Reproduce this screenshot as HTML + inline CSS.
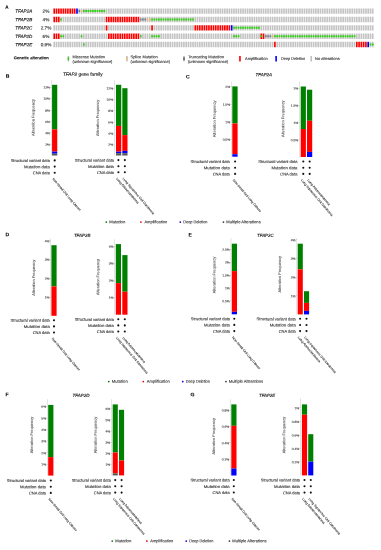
<!DOCTYPE html>
<html lang="en"><head><meta charset="utf-8"><title>TFAP2 family alterations in lung cancer</title>
<style>
html,body{margin:0;padding:0;background:#fff;}
body{width:381px;height:550px;overflow:hidden;}
svg{display:block;font-family:"Liberation Sans",sans-serif;}
svg text{stroke-width:0.1px;text-rendering:geometricPrecision;}
</style></head><body>
<svg width="381" height="550" viewBox="0 0 381 550">
<rect width="381" height="550" fill="#ffffff"/>
<text x="5.20" y="8.76" font-size="4.6" font-weight="bold" fill="#000" stroke="#000" transform="rotate(0.03 5.20 8.76)">A</text>
<text x="15.20" y="12.86" font-size="4.6" font-style="italic" fill="#222" stroke="#222" textLength="17.10" lengthAdjust="spacingAndGlyphs" transform="rotate(0.03 15.20 12.86)" style="stroke-width:0.15px">TFAP2A</text>
<text x="46.00" y="12.82" font-size="4.7" text-anchor="middle" fill="#333" stroke="#333" transform="rotate(0.03 46.00 12.82)" style="stroke-width:0.14px">2%</text>
<path d="M78.42 8.40h1.68v5.4h-1.68zM80.70 8.40h1.68v5.4h-1.68zM82.97 8.40h1.68v5.4h-1.68zM85.25 8.40h1.68v5.4h-1.68zM87.53 8.40h1.68v5.4h-1.68zM89.80 8.40h1.68v5.4h-1.68zM92.07 8.40h1.68v5.4h-1.68zM94.35 8.40h1.68v5.4h-1.68zM96.62 8.40h1.68v5.4h-1.68zM98.90 8.40h1.68v5.4h-1.68zM101.17 8.40h1.68v5.4h-1.68zM103.45 8.40h1.68v5.4h-1.68zM105.72 8.40h1.68v5.4h-1.68zM108.00 8.40h1.68v5.4h-1.68zM110.28 8.40h1.68v5.4h-1.68zM112.55 8.40h1.68v5.4h-1.68zM114.82 8.40h1.68v5.4h-1.68zM117.10 8.40h1.68v5.4h-1.68zM119.38 8.40h1.68v5.4h-1.68zM121.65 8.40h1.68v5.4h-1.68zM123.92 8.40h1.68v5.4h-1.68zM126.20 8.40h1.68v5.4h-1.68zM128.47 8.40h1.68v5.4h-1.68zM130.75 8.40h1.68v5.4h-1.68zM133.03 8.40h1.68v5.4h-1.68zM135.30 8.40h1.68v5.4h-1.68zM137.57 8.40h1.68v5.4h-1.68zM139.85 8.40h1.68v5.4h-1.68zM142.12 8.40h1.68v5.4h-1.68zM144.40 8.40h1.68v5.4h-1.68zM146.67 8.40h1.68v5.4h-1.68zM148.95 8.40h1.68v5.4h-1.68zM151.22 8.40h1.68v5.4h-1.68zM153.50 8.40h1.68v5.4h-1.68zM155.78 8.40h1.68v5.4h-1.68zM158.05 8.40h1.68v5.4h-1.68zM160.32 8.40h1.68v5.4h-1.68zM162.60 8.40h1.68v5.4h-1.68zM164.88 8.40h1.68v5.4h-1.68zM167.15 8.40h1.68v5.4h-1.68zM169.42 8.40h1.68v5.4h-1.68zM171.70 8.40h1.68v5.4h-1.68zM173.97 8.40h1.68v5.4h-1.68zM176.25 8.40h1.68v5.4h-1.68zM178.53 8.40h1.68v5.4h-1.68zM180.80 8.40h1.68v5.4h-1.68zM183.07 8.40h1.68v5.4h-1.68zM185.35 8.40h1.68v5.4h-1.68zM187.62 8.40h1.68v5.4h-1.68zM189.90 8.40h1.68v5.4h-1.68zM192.18 8.40h1.68v5.4h-1.68zM194.45 8.40h1.68v5.4h-1.68zM196.72 8.40h1.68v5.4h-1.68zM199.00 8.40h1.68v5.4h-1.68zM201.28 8.40h1.68v5.4h-1.68zM203.55 8.40h1.68v5.4h-1.68zM205.82 8.40h1.68v5.4h-1.68zM208.10 8.40h1.68v5.4h-1.68zM210.38 8.40h1.68v5.4h-1.68zM212.65 8.40h1.68v5.4h-1.68zM214.93 8.40h1.68v5.4h-1.68zM217.20 8.40h1.68v5.4h-1.68zM219.47 8.40h1.68v5.4h-1.68zM221.75 8.40h1.68v5.4h-1.68zM224.03 8.40h1.68v5.4h-1.68zM226.30 8.40h1.68v5.4h-1.68zM228.57 8.40h1.68v5.4h-1.68zM230.85 8.40h1.68v5.4h-1.68zM233.12 8.40h1.68v5.4h-1.68zM235.40 8.40h1.68v5.4h-1.68zM237.68 8.40h1.68v5.4h-1.68zM239.95 8.40h1.68v5.4h-1.68zM242.22 8.40h1.68v5.4h-1.68zM244.50 8.40h1.68v5.4h-1.68zM246.78 8.40h1.68v5.4h-1.68zM249.05 8.40h1.68v5.4h-1.68zM251.32 8.40h1.68v5.4h-1.68zM253.60 8.40h1.68v5.4h-1.68zM255.88 8.40h1.68v5.4h-1.68zM258.15 8.40h1.68v5.4h-1.68zM260.43 8.40h1.68v5.4h-1.68zM262.70 8.40h1.68v5.4h-1.68zM264.97 8.40h1.68v5.4h-1.68zM267.25 8.40h1.68v5.4h-1.68zM269.52 8.40h1.68v5.4h-1.68zM271.80 8.40h1.68v5.4h-1.68zM274.07 8.40h1.68v5.4h-1.68zM276.35 8.40h1.68v5.4h-1.68zM278.62 8.40h1.68v5.4h-1.68zM280.90 8.40h1.68v5.4h-1.68zM283.17 8.40h1.68v5.4h-1.68zM285.45 8.40h1.68v5.4h-1.68zM287.72 8.40h1.68v5.4h-1.68zM290.00 8.40h1.68v5.4h-1.68zM292.27 8.40h1.68v5.4h-1.68zM294.55 8.40h1.68v5.4h-1.68zM296.82 8.40h1.68v5.4h-1.68zM299.10 8.40h1.68v5.4h-1.68zM301.38 8.40h1.68v5.4h-1.68zM303.65 8.40h1.68v5.4h-1.68zM305.92 8.40h1.68v5.4h-1.68zM308.20 8.40h1.68v5.4h-1.68zM310.47 8.40h1.68v5.4h-1.68zM312.75 8.40h1.68v5.4h-1.68zM315.02 8.40h1.68v5.4h-1.68zM317.30 8.40h1.68v5.4h-1.68zM319.57 8.40h1.68v5.4h-1.68zM321.85 8.40h1.68v5.4h-1.68zM324.12 8.40h1.68v5.4h-1.68zM326.40 8.40h1.68v5.4h-1.68zM328.67 8.40h1.68v5.4h-1.68zM330.95 8.40h1.68v5.4h-1.68zM333.22 8.40h1.68v5.4h-1.68zM335.50 8.40h1.68v5.4h-1.68zM337.77 8.40h1.68v5.4h-1.68zM340.05 8.40h1.68v5.4h-1.68zM342.32 8.40h1.68v5.4h-1.68zM344.60 8.40h1.68v5.4h-1.68zM346.87 8.40h1.68v5.4h-1.68zM349.15 8.40h1.68v5.4h-1.68zM351.42 8.40h1.68v5.4h-1.68zM353.70 8.40h1.68v5.4h-1.68zM355.97 8.40h1.68v5.4h-1.68zM358.25 8.40h1.68v5.4h-1.68zM360.52 8.40h1.68v5.4h-1.68zM362.80 8.40h1.68v5.4h-1.68zM365.07 8.40h1.68v5.4h-1.68zM367.35 8.40h1.68v5.4h-1.68zM369.62 8.40h1.68v5.4h-1.68zM371.90 8.40h1.68v5.4h-1.68z" fill="#c4c4c4"/>
<path d="M53.40 8.40h1.68v5.4h-1.68zM55.67 8.40h1.68v5.4h-1.68zM57.95 8.40h1.68v5.4h-1.68zM60.22 8.40h1.68v5.4h-1.68zM62.50 8.40h1.68v5.4h-1.68zM64.78 8.40h1.68v5.4h-1.68zM67.05 8.40h1.68v5.4h-1.68zM69.33 8.40h1.68v5.4h-1.68zM71.60 8.40h1.68v5.4h-1.68zM73.88 8.40h1.68v5.4h-1.68z" fill="#ff0000"/>
<path d="M76.15 8.40h1.68v5.4h-1.68z" fill="#0000ff"/>
<path d="M82.97 10.10h1.68v2.0h-1.68zM85.25 10.10h1.68v2.0h-1.68zM87.53 10.10h1.68v2.0h-1.68zM89.80 10.10h1.68v2.0h-1.68zM92.07 10.10h1.68v2.0h-1.68zM94.35 10.10h1.68v2.0h-1.68zM96.62 10.10h1.68v2.0h-1.68zM98.90 10.10h1.68v2.0h-1.68zM101.17 10.10h1.68v2.0h-1.68zM103.45 10.10h1.68v2.0h-1.68z" fill="#2ed010"/>
<path d="M78.42 10.10h1.68v2.0h-1.68z" fill="#708090"/>
<path d="M80.70 10.10h1.68v2.0h-1.68z" fill="#f0b87b"/>
<text x="15.20" y="21.26" font-size="4.6" font-style="italic" fill="#222" stroke="#222" textLength="17.10" lengthAdjust="spacingAndGlyphs" transform="rotate(0.03 15.20 21.26)" style="stroke-width:0.15px">TFAP2B</text>
<text x="46.00" y="21.22" font-size="4.7" text-anchor="middle" fill="#333" stroke="#333" transform="rotate(0.03 46.00 21.22)" style="stroke-width:0.14px">4%</text>
<path d="M60.22 16.80h1.68v5.4h-1.68zM62.50 16.80h1.68v5.4h-1.68zM64.78 16.80h1.68v5.4h-1.68zM67.05 16.80h1.68v5.4h-1.68zM69.33 16.80h1.68v5.4h-1.68zM71.60 16.80h1.68v5.4h-1.68zM73.88 16.80h1.68v5.4h-1.68zM76.15 16.80h1.68v5.4h-1.68zM78.42 16.80h1.68v5.4h-1.68zM80.70 16.80h1.68v5.4h-1.68zM82.97 16.80h1.68v5.4h-1.68zM85.25 16.80h1.68v5.4h-1.68zM87.53 16.80h1.68v5.4h-1.68zM89.80 16.80h1.68v5.4h-1.68zM92.07 16.80h1.68v5.4h-1.68zM94.35 16.80h1.68v5.4h-1.68zM96.62 16.80h1.68v5.4h-1.68zM98.90 16.80h1.68v5.4h-1.68zM101.17 16.80h1.68v5.4h-1.68zM103.45 16.80h1.68v5.4h-1.68zM139.85 16.80h1.68v5.4h-1.68zM142.12 16.80h1.68v5.4h-1.68zM144.40 16.80h1.68v5.4h-1.68zM146.67 16.80h1.68v5.4h-1.68zM148.95 16.80h1.68v5.4h-1.68zM151.22 16.80h1.68v5.4h-1.68zM153.50 16.80h1.68v5.4h-1.68zM155.78 16.80h1.68v5.4h-1.68zM158.05 16.80h1.68v5.4h-1.68zM160.32 16.80h1.68v5.4h-1.68zM162.60 16.80h1.68v5.4h-1.68zM164.88 16.80h1.68v5.4h-1.68zM167.15 16.80h1.68v5.4h-1.68zM169.42 16.80h1.68v5.4h-1.68zM171.70 16.80h1.68v5.4h-1.68zM173.97 16.80h1.68v5.4h-1.68zM176.25 16.80h1.68v5.4h-1.68zM178.53 16.80h1.68v5.4h-1.68zM180.80 16.80h1.68v5.4h-1.68zM183.07 16.80h1.68v5.4h-1.68zM185.35 16.80h1.68v5.4h-1.68zM187.62 16.80h1.68v5.4h-1.68zM189.90 16.80h1.68v5.4h-1.68zM192.18 16.80h1.68v5.4h-1.68zM194.45 16.80h1.68v5.4h-1.68zM196.72 16.80h1.68v5.4h-1.68zM199.00 16.80h1.68v5.4h-1.68zM201.28 16.80h1.68v5.4h-1.68zM203.55 16.80h1.68v5.4h-1.68zM205.82 16.80h1.68v5.4h-1.68zM208.10 16.80h1.68v5.4h-1.68zM210.38 16.80h1.68v5.4h-1.68zM212.65 16.80h1.68v5.4h-1.68zM214.93 16.80h1.68v5.4h-1.68zM217.20 16.80h1.68v5.4h-1.68zM219.47 16.80h1.68v5.4h-1.68zM221.75 16.80h1.68v5.4h-1.68zM224.03 16.80h1.68v5.4h-1.68zM226.30 16.80h1.68v5.4h-1.68zM228.57 16.80h1.68v5.4h-1.68zM230.85 16.80h1.68v5.4h-1.68zM233.12 16.80h1.68v5.4h-1.68zM235.40 16.80h1.68v5.4h-1.68zM237.68 16.80h1.68v5.4h-1.68zM239.95 16.80h1.68v5.4h-1.68zM242.22 16.80h1.68v5.4h-1.68zM244.50 16.80h1.68v5.4h-1.68zM246.78 16.80h1.68v5.4h-1.68zM249.05 16.80h1.68v5.4h-1.68zM251.32 16.80h1.68v5.4h-1.68zM253.60 16.80h1.68v5.4h-1.68zM255.88 16.80h1.68v5.4h-1.68zM258.15 16.80h1.68v5.4h-1.68zM260.43 16.80h1.68v5.4h-1.68zM262.70 16.80h1.68v5.4h-1.68zM264.97 16.80h1.68v5.4h-1.68zM267.25 16.80h1.68v5.4h-1.68zM269.52 16.80h1.68v5.4h-1.68zM271.80 16.80h1.68v5.4h-1.68zM274.07 16.80h1.68v5.4h-1.68zM276.35 16.80h1.68v5.4h-1.68zM278.62 16.80h1.68v5.4h-1.68zM280.90 16.80h1.68v5.4h-1.68zM283.17 16.80h1.68v5.4h-1.68zM285.45 16.80h1.68v5.4h-1.68zM287.72 16.80h1.68v5.4h-1.68zM290.00 16.80h1.68v5.4h-1.68zM292.27 16.80h1.68v5.4h-1.68zM294.55 16.80h1.68v5.4h-1.68zM296.82 16.80h1.68v5.4h-1.68zM299.10 16.80h1.68v5.4h-1.68zM301.38 16.80h1.68v5.4h-1.68zM303.65 16.80h1.68v5.4h-1.68zM305.92 16.80h1.68v5.4h-1.68zM308.20 16.80h1.68v5.4h-1.68zM310.47 16.80h1.68v5.4h-1.68zM312.75 16.80h1.68v5.4h-1.68zM315.02 16.80h1.68v5.4h-1.68zM317.30 16.80h1.68v5.4h-1.68zM319.57 16.80h1.68v5.4h-1.68zM321.85 16.80h1.68v5.4h-1.68zM324.12 16.80h1.68v5.4h-1.68zM326.40 16.80h1.68v5.4h-1.68zM328.67 16.80h1.68v5.4h-1.68zM330.95 16.80h1.68v5.4h-1.68zM333.22 16.80h1.68v5.4h-1.68zM335.50 16.80h1.68v5.4h-1.68zM337.77 16.80h1.68v5.4h-1.68zM340.05 16.80h1.68v5.4h-1.68zM342.32 16.80h1.68v5.4h-1.68zM344.60 16.80h1.68v5.4h-1.68zM346.87 16.80h1.68v5.4h-1.68zM349.15 16.80h1.68v5.4h-1.68zM351.42 16.80h1.68v5.4h-1.68zM353.70 16.80h1.68v5.4h-1.68zM355.97 16.80h1.68v5.4h-1.68zM358.25 16.80h1.68v5.4h-1.68zM360.52 16.80h1.68v5.4h-1.68zM362.80 16.80h1.68v5.4h-1.68zM365.07 16.80h1.68v5.4h-1.68zM367.35 16.80h1.68v5.4h-1.68zM369.62 16.80h1.68v5.4h-1.68zM371.90 16.80h1.68v5.4h-1.68z" fill="#c4c4c4"/>
<path d="M53.40 16.80h1.68v5.4h-1.68zM55.67 16.80h1.68v5.4h-1.68zM57.95 16.80h1.68v5.4h-1.68zM105.72 16.80h1.68v5.4h-1.68zM108.00 16.80h1.68v5.4h-1.68zM110.28 16.80h1.68v5.4h-1.68zM112.55 16.80h1.68v5.4h-1.68zM114.82 16.80h1.68v5.4h-1.68zM117.10 16.80h1.68v5.4h-1.68zM119.38 16.80h1.68v5.4h-1.68zM121.65 16.80h1.68v5.4h-1.68zM123.92 16.80h1.68v5.4h-1.68zM126.20 16.80h1.68v5.4h-1.68zM128.47 16.80h1.68v5.4h-1.68zM130.75 16.80h1.68v5.4h-1.68zM133.03 16.80h1.68v5.4h-1.68zM135.30 16.80h1.68v5.4h-1.68zM137.57 16.80h1.68v5.4h-1.68z" fill="#ff0000"/>
<path d="M60.22 18.50h1.68v2.0h-1.68zM151.22 18.50h1.68v2.0h-1.68zM153.50 18.50h1.68v2.0h-1.68zM155.78 18.50h1.68v2.0h-1.68zM158.05 18.50h1.68v2.0h-1.68zM160.32 18.50h1.68v2.0h-1.68zM162.60 18.50h1.68v2.0h-1.68zM164.88 18.50h1.68v2.0h-1.68zM167.15 18.50h1.68v2.0h-1.68zM169.42 18.50h1.68v2.0h-1.68zM171.70 18.50h1.68v2.0h-1.68zM173.97 18.50h1.68v2.0h-1.68zM176.25 18.50h1.68v2.0h-1.68zM178.53 18.50h1.68v2.0h-1.68zM180.80 18.50h1.68v2.0h-1.68zM183.07 18.50h1.68v2.0h-1.68zM185.35 18.50h1.68v2.0h-1.68zM187.62 18.50h1.68v2.0h-1.68zM189.90 18.50h1.68v2.0h-1.68zM192.18 18.50h1.68v2.0h-1.68z" fill="#2ed010"/>
<path d="M139.85 18.50h1.68v2.0h-1.68zM142.12 18.50h1.68v2.0h-1.68zM144.40 18.50h1.68v2.0h-1.68z" fill="#708090"/>
<path d="M146.67 18.50h1.68v2.0h-1.68zM148.95 18.50h1.68v2.0h-1.68z" fill="#f0b87b"/>
<text x="15.20" y="29.61" font-size="4.6" font-style="italic" fill="#222" stroke="#222" textLength="17.10" lengthAdjust="spacingAndGlyphs" transform="rotate(0.03 15.20 29.61)" style="stroke-width:0.15px">TFAP2C</text>
<text x="46.00" y="29.57" font-size="4.7" text-anchor="middle" fill="#333" stroke="#333" transform="rotate(0.03 46.00 29.57)" style="stroke-width:0.14px">2.7%</text>
<path d="M53.40 25.15h1.68v5.4h-1.68zM55.67 25.15h1.68v5.4h-1.68zM57.95 25.15h1.68v5.4h-1.68zM60.22 25.15h1.68v5.4h-1.68zM62.50 25.15h1.68v5.4h-1.68zM64.78 25.15h1.68v5.4h-1.68zM67.05 25.15h1.68v5.4h-1.68zM69.33 25.15h1.68v5.4h-1.68zM71.60 25.15h1.68v5.4h-1.68zM73.88 25.15h1.68v5.4h-1.68zM76.15 25.15h1.68v5.4h-1.68zM78.42 25.15h1.68v5.4h-1.68zM80.70 25.15h1.68v5.4h-1.68zM82.97 25.15h1.68v5.4h-1.68zM85.25 25.15h1.68v5.4h-1.68zM87.53 25.15h1.68v5.4h-1.68zM89.80 25.15h1.68v5.4h-1.68zM92.07 25.15h1.68v5.4h-1.68zM94.35 25.15h1.68v5.4h-1.68zM96.62 25.15h1.68v5.4h-1.68zM98.90 25.15h1.68v5.4h-1.68zM101.17 25.15h1.68v5.4h-1.68zM103.45 25.15h1.68v5.4h-1.68zM108.00 25.15h1.68v5.4h-1.68zM110.28 25.15h1.68v5.4h-1.68zM112.55 25.15h1.68v5.4h-1.68zM114.82 25.15h1.68v5.4h-1.68zM117.10 25.15h1.68v5.4h-1.68zM119.38 25.15h1.68v5.4h-1.68zM121.65 25.15h1.68v5.4h-1.68zM123.92 25.15h1.68v5.4h-1.68zM126.20 25.15h1.68v5.4h-1.68zM128.47 25.15h1.68v5.4h-1.68zM130.75 25.15h1.68v5.4h-1.68zM133.03 25.15h1.68v5.4h-1.68zM135.30 25.15h1.68v5.4h-1.68zM137.57 25.15h1.68v5.4h-1.68zM139.85 25.15h1.68v5.4h-1.68zM142.12 25.15h1.68v5.4h-1.68zM144.40 25.15h1.68v5.4h-1.68zM146.67 25.15h1.68v5.4h-1.68zM148.95 25.15h1.68v5.4h-1.68zM153.50 25.15h1.68v5.4h-1.68zM155.78 25.15h1.68v5.4h-1.68zM158.05 25.15h1.68v5.4h-1.68zM160.32 25.15h1.68v5.4h-1.68zM162.60 25.15h1.68v5.4h-1.68zM164.88 25.15h1.68v5.4h-1.68zM167.15 25.15h1.68v5.4h-1.68zM169.42 25.15h1.68v5.4h-1.68zM171.70 25.15h1.68v5.4h-1.68zM173.97 25.15h1.68v5.4h-1.68zM176.25 25.15h1.68v5.4h-1.68zM178.53 25.15h1.68v5.4h-1.68zM180.80 25.15h1.68v5.4h-1.68zM183.07 25.15h1.68v5.4h-1.68zM185.35 25.15h1.68v5.4h-1.68zM187.62 25.15h1.68v5.4h-1.68zM189.90 25.15h1.68v5.4h-1.68zM192.18 25.15h1.68v5.4h-1.68zM233.12 25.15h1.68v5.4h-1.68zM235.40 25.15h1.68v5.4h-1.68zM237.68 25.15h1.68v5.4h-1.68zM239.95 25.15h1.68v5.4h-1.68zM242.22 25.15h1.68v5.4h-1.68zM244.50 25.15h1.68v5.4h-1.68zM246.78 25.15h1.68v5.4h-1.68zM249.05 25.15h1.68v5.4h-1.68zM251.32 25.15h1.68v5.4h-1.68zM253.60 25.15h1.68v5.4h-1.68zM255.88 25.15h1.68v5.4h-1.68zM258.15 25.15h1.68v5.4h-1.68zM260.43 25.15h1.68v5.4h-1.68zM262.70 25.15h1.68v5.4h-1.68zM264.97 25.15h1.68v5.4h-1.68zM267.25 25.15h1.68v5.4h-1.68zM269.52 25.15h1.68v5.4h-1.68zM271.80 25.15h1.68v5.4h-1.68zM274.07 25.15h1.68v5.4h-1.68zM276.35 25.15h1.68v5.4h-1.68zM278.62 25.15h1.68v5.4h-1.68zM280.90 25.15h1.68v5.4h-1.68zM283.17 25.15h1.68v5.4h-1.68zM285.45 25.15h1.68v5.4h-1.68zM287.72 25.15h1.68v5.4h-1.68zM290.00 25.15h1.68v5.4h-1.68zM292.27 25.15h1.68v5.4h-1.68zM294.55 25.15h1.68v5.4h-1.68zM296.82 25.15h1.68v5.4h-1.68zM299.10 25.15h1.68v5.4h-1.68zM301.38 25.15h1.68v5.4h-1.68zM303.65 25.15h1.68v5.4h-1.68zM305.92 25.15h1.68v5.4h-1.68zM308.20 25.15h1.68v5.4h-1.68zM310.47 25.15h1.68v5.4h-1.68zM312.75 25.15h1.68v5.4h-1.68zM315.02 25.15h1.68v5.4h-1.68zM317.30 25.15h1.68v5.4h-1.68zM319.57 25.15h1.68v5.4h-1.68zM321.85 25.15h1.68v5.4h-1.68zM324.12 25.15h1.68v5.4h-1.68zM326.40 25.15h1.68v5.4h-1.68zM328.67 25.15h1.68v5.4h-1.68zM330.95 25.15h1.68v5.4h-1.68zM333.22 25.15h1.68v5.4h-1.68zM335.50 25.15h1.68v5.4h-1.68zM337.77 25.15h1.68v5.4h-1.68zM340.05 25.15h1.68v5.4h-1.68zM342.32 25.15h1.68v5.4h-1.68zM344.60 25.15h1.68v5.4h-1.68zM346.87 25.15h1.68v5.4h-1.68zM349.15 25.15h1.68v5.4h-1.68zM351.42 25.15h1.68v5.4h-1.68zM353.70 25.15h1.68v5.4h-1.68zM355.97 25.15h1.68v5.4h-1.68zM358.25 25.15h1.68v5.4h-1.68zM360.52 25.15h1.68v5.4h-1.68zM362.80 25.15h1.68v5.4h-1.68zM365.07 25.15h1.68v5.4h-1.68zM367.35 25.15h1.68v5.4h-1.68zM369.62 25.15h1.68v5.4h-1.68zM371.90 25.15h1.68v5.4h-1.68z" fill="#c4c4c4"/>
<path d="M105.72 25.15h1.68v5.4h-1.68zM151.22 25.15h1.68v5.4h-1.68zM194.45 25.15h1.68v5.4h-1.68zM196.72 25.15h1.68v5.4h-1.68zM199.00 25.15h1.68v5.4h-1.68zM201.28 25.15h1.68v5.4h-1.68zM203.55 25.15h1.68v5.4h-1.68zM205.82 25.15h1.68v5.4h-1.68zM208.10 25.15h1.68v5.4h-1.68zM210.38 25.15h1.68v5.4h-1.68zM212.65 25.15h1.68v5.4h-1.68zM214.93 25.15h1.68v5.4h-1.68zM217.20 25.15h1.68v5.4h-1.68zM219.47 25.15h1.68v5.4h-1.68zM221.75 25.15h1.68v5.4h-1.68zM224.03 25.15h1.68v5.4h-1.68zM226.30 25.15h1.68v5.4h-1.68zM228.57 25.15h1.68v5.4h-1.68z" fill="#ff0000"/>
<path d="M230.85 25.15h1.68v5.4h-1.68z" fill="#0000ff"/>
<path d="M233.12 26.85h1.68v2.0h-1.68zM235.40 26.85h1.68v2.0h-1.68zM237.68 26.85h1.68v2.0h-1.68zM239.95 26.85h1.68v2.0h-1.68zM242.22 26.85h1.68v2.0h-1.68zM244.50 26.85h1.68v2.0h-1.68zM246.78 26.85h1.68v2.0h-1.68zM249.05 26.85h1.68v2.0h-1.68zM251.32 26.85h1.68v2.0h-1.68zM253.60 26.85h1.68v2.0h-1.68zM255.88 26.85h1.68v2.0h-1.68zM258.15 26.85h1.68v2.0h-1.68z" fill="#2ed010"/>
<text x="15.20" y="37.96" font-size="4.6" font-style="italic" fill="#222" stroke="#222" textLength="17.10" lengthAdjust="spacingAndGlyphs" transform="rotate(0.03 15.20 37.96)" style="stroke-width:0.15px">TFAP2D</text>
<text x="46.00" y="37.92" font-size="4.7" text-anchor="middle" fill="#333" stroke="#333" transform="rotate(0.03 46.00 37.92)" style="stroke-width:0.14px">6%</text>
<path d="M60.22 33.50h1.68v5.4h-1.68zM62.50 33.50h1.68v5.4h-1.68zM64.78 33.50h1.68v5.4h-1.68zM67.05 33.50h1.68v5.4h-1.68zM69.33 33.50h1.68v5.4h-1.68zM71.60 33.50h1.68v5.4h-1.68zM73.88 33.50h1.68v5.4h-1.68zM76.15 33.50h1.68v5.4h-1.68zM78.42 33.50h1.68v5.4h-1.68zM80.70 33.50h1.68v5.4h-1.68zM82.97 33.50h1.68v5.4h-1.68zM85.25 33.50h1.68v5.4h-1.68zM87.53 33.50h1.68v5.4h-1.68zM89.80 33.50h1.68v5.4h-1.68zM92.07 33.50h1.68v5.4h-1.68zM94.35 33.50h1.68v5.4h-1.68zM96.62 33.50h1.68v5.4h-1.68zM98.90 33.50h1.68v5.4h-1.68zM101.17 33.50h1.68v5.4h-1.68zM103.45 33.50h1.68v5.4h-1.68zM105.72 33.50h1.68v5.4h-1.68zM139.85 33.50h1.68v5.4h-1.68zM142.12 33.50h1.68v5.4h-1.68zM144.40 33.50h1.68v5.4h-1.68zM146.67 33.50h1.68v5.4h-1.68zM148.95 33.50h1.68v5.4h-1.68zM151.22 33.50h1.68v5.4h-1.68zM153.50 33.50h1.68v5.4h-1.68zM155.78 33.50h1.68v5.4h-1.68zM158.05 33.50h1.68v5.4h-1.68zM160.32 33.50h1.68v5.4h-1.68zM162.60 33.50h1.68v5.4h-1.68zM164.88 33.50h1.68v5.4h-1.68zM167.15 33.50h1.68v5.4h-1.68zM169.42 33.50h1.68v5.4h-1.68zM171.70 33.50h1.68v5.4h-1.68zM173.97 33.50h1.68v5.4h-1.68zM176.25 33.50h1.68v5.4h-1.68zM178.53 33.50h1.68v5.4h-1.68zM180.80 33.50h1.68v5.4h-1.68zM183.07 33.50h1.68v5.4h-1.68zM185.35 33.50h1.68v5.4h-1.68zM187.62 33.50h1.68v5.4h-1.68zM189.90 33.50h1.68v5.4h-1.68zM192.18 33.50h1.68v5.4h-1.68zM194.45 33.50h1.68v5.4h-1.68zM196.72 33.50h1.68v5.4h-1.68zM199.00 33.50h1.68v5.4h-1.68zM201.28 33.50h1.68v5.4h-1.68zM203.55 33.50h1.68v5.4h-1.68zM205.82 33.50h1.68v5.4h-1.68zM208.10 33.50h1.68v5.4h-1.68zM210.38 33.50h1.68v5.4h-1.68zM212.65 33.50h1.68v5.4h-1.68zM214.93 33.50h1.68v5.4h-1.68zM217.20 33.50h1.68v5.4h-1.68zM219.47 33.50h1.68v5.4h-1.68zM221.75 33.50h1.68v5.4h-1.68zM224.03 33.50h1.68v5.4h-1.68zM226.30 33.50h1.68v5.4h-1.68zM228.57 33.50h1.68v5.4h-1.68zM230.85 33.50h1.68v5.4h-1.68zM233.12 33.50h1.68v5.4h-1.68zM235.40 33.50h1.68v5.4h-1.68zM237.68 33.50h1.68v5.4h-1.68zM239.95 33.50h1.68v5.4h-1.68zM242.22 33.50h1.68v5.4h-1.68zM244.50 33.50h1.68v5.4h-1.68zM246.78 33.50h1.68v5.4h-1.68zM249.05 33.50h1.68v5.4h-1.68zM251.32 33.50h1.68v5.4h-1.68zM253.60 33.50h1.68v5.4h-1.68zM255.88 33.50h1.68v5.4h-1.68zM258.15 33.50h1.68v5.4h-1.68zM264.97 33.50h1.68v5.4h-1.68zM267.25 33.50h1.68v5.4h-1.68zM269.52 33.50h1.68v5.4h-1.68zM271.80 33.50h1.68v5.4h-1.68zM274.07 33.50h1.68v5.4h-1.68zM276.35 33.50h1.68v5.4h-1.68zM278.62 33.50h1.68v5.4h-1.68zM280.90 33.50h1.68v5.4h-1.68zM283.17 33.50h1.68v5.4h-1.68zM285.45 33.50h1.68v5.4h-1.68zM287.72 33.50h1.68v5.4h-1.68zM290.00 33.50h1.68v5.4h-1.68zM292.27 33.50h1.68v5.4h-1.68zM294.55 33.50h1.68v5.4h-1.68zM296.82 33.50h1.68v5.4h-1.68zM299.10 33.50h1.68v5.4h-1.68zM301.38 33.50h1.68v5.4h-1.68zM303.65 33.50h1.68v5.4h-1.68zM305.92 33.50h1.68v5.4h-1.68zM308.20 33.50h1.68v5.4h-1.68zM310.47 33.50h1.68v5.4h-1.68zM312.75 33.50h1.68v5.4h-1.68zM315.02 33.50h1.68v5.4h-1.68zM317.30 33.50h1.68v5.4h-1.68zM319.57 33.50h1.68v5.4h-1.68zM321.85 33.50h1.68v5.4h-1.68zM324.12 33.50h1.68v5.4h-1.68zM326.40 33.50h1.68v5.4h-1.68zM328.67 33.50h1.68v5.4h-1.68zM330.95 33.50h1.68v5.4h-1.68zM333.22 33.50h1.68v5.4h-1.68zM335.50 33.50h1.68v5.4h-1.68zM337.77 33.50h1.68v5.4h-1.68zM340.05 33.50h1.68v5.4h-1.68zM342.32 33.50h1.68v5.4h-1.68zM344.60 33.50h1.68v5.4h-1.68zM346.87 33.50h1.68v5.4h-1.68zM349.15 33.50h1.68v5.4h-1.68zM351.42 33.50h1.68v5.4h-1.68zM353.70 33.50h1.68v5.4h-1.68zM355.97 33.50h1.68v5.4h-1.68zM358.25 33.50h1.68v5.4h-1.68zM360.52 33.50h1.68v5.4h-1.68zM362.80 33.50h1.68v5.4h-1.68zM365.07 33.50h1.68v5.4h-1.68zM367.35 33.50h1.68v5.4h-1.68zM369.62 33.50h1.68v5.4h-1.68zM371.90 33.50h1.68v5.4h-1.68z" fill="#c4c4c4"/>
<path d="M53.40 33.50h1.68v5.4h-1.68zM55.67 33.50h1.68v5.4h-1.68zM57.95 33.50h1.68v5.4h-1.68zM108.00 33.50h1.68v5.4h-1.68zM110.28 33.50h1.68v5.4h-1.68zM112.55 33.50h1.68v5.4h-1.68zM114.82 33.50h1.68v5.4h-1.68zM117.10 33.50h1.68v5.4h-1.68zM119.38 33.50h1.68v5.4h-1.68zM121.65 33.50h1.68v5.4h-1.68zM123.92 33.50h1.68v5.4h-1.68zM126.20 33.50h1.68v5.4h-1.68zM128.47 33.50h1.68v5.4h-1.68zM130.75 33.50h1.68v5.4h-1.68zM133.03 33.50h1.68v5.4h-1.68zM135.30 33.50h1.68v5.4h-1.68zM137.57 33.50h1.68v5.4h-1.68zM260.43 33.50h1.68v5.4h-1.68zM262.70 33.50h1.68v5.4h-1.68z" fill="#ff0000"/>
<path d="M60.22 35.20h1.68v2.0h-1.68zM62.50 35.20h1.68v2.0h-1.68zM80.70 35.20h1.68v2.0h-1.68zM139.85 35.20h1.68v2.0h-1.68zM151.22 35.20h1.68v2.0h-1.68zM153.50 35.20h1.68v2.0h-1.68zM155.78 35.20h1.68v2.0h-1.68zM158.05 35.20h1.68v2.0h-1.68zM233.12 35.20h1.68v2.0h-1.68zM235.40 35.20h1.68v2.0h-1.68zM237.68 35.20h1.68v2.0h-1.68zM260.43 35.20h1.68v2.0h-1.68zM274.07 35.20h1.68v2.0h-1.68zM276.35 35.20h1.68v2.0h-1.68zM278.62 35.20h1.68v2.0h-1.68zM280.90 35.20h1.68v2.0h-1.68zM283.17 35.20h1.68v2.0h-1.68zM285.45 35.20h1.68v2.0h-1.68zM287.72 35.20h1.68v2.0h-1.68zM290.00 35.20h1.68v2.0h-1.68zM292.27 35.20h1.68v2.0h-1.68zM294.55 35.20h1.68v2.0h-1.68zM296.82 35.20h1.68v2.0h-1.68zM299.10 35.20h1.68v2.0h-1.68zM301.38 35.20h1.68v2.0h-1.68zM303.65 35.20h1.68v2.0h-1.68zM305.92 35.20h1.68v2.0h-1.68zM308.20 35.20h1.68v2.0h-1.68zM310.47 35.20h1.68v2.0h-1.68zM312.75 35.20h1.68v2.0h-1.68zM315.02 35.20h1.68v2.0h-1.68zM317.30 35.20h1.68v2.0h-1.68zM319.57 35.20h1.68v2.0h-1.68zM321.85 35.20h1.68v2.0h-1.68zM324.12 35.20h1.68v2.0h-1.68zM326.40 35.20h1.68v2.0h-1.68zM328.67 35.20h1.68v2.0h-1.68zM330.95 35.20h1.68v2.0h-1.68zM333.22 35.20h1.68v2.0h-1.68zM335.50 35.20h1.68v2.0h-1.68zM337.77 35.20h1.68v2.0h-1.68zM340.05 35.20h1.68v2.0h-1.68zM342.32 35.20h1.68v2.0h-1.68zM344.60 35.20h1.68v2.0h-1.68zM346.87 35.20h1.68v2.0h-1.68zM349.15 35.20h1.68v2.0h-1.68zM351.42 35.20h1.68v2.0h-1.68zM353.70 35.20h1.68v2.0h-1.68z" fill="#2ed010"/>
<path d="M264.97 35.20h1.68v2.0h-1.68zM267.25 35.20h1.68v2.0h-1.68zM269.52 35.20h1.68v2.0h-1.68z" fill="#708090"/>
<path d="M271.80 35.20h1.68v2.0h-1.68z" fill="#f0b87b"/>
<text x="15.20" y="46.31" font-size="4.6" font-style="italic" fill="#222" stroke="#222" textLength="17.10" lengthAdjust="spacingAndGlyphs" transform="rotate(0.03 15.20 46.31)" style="stroke-width:0.15px">TFAP2E</text>
<text x="46.00" y="46.27" font-size="4.7" text-anchor="middle" fill="#333" stroke="#333" transform="rotate(0.03 46.00 46.27)" style="stroke-width:0.14px">0.9%</text>
<path d="M53.40 41.85h1.68v5.4h-1.68zM55.67 41.85h1.68v5.4h-1.68zM57.95 41.85h1.68v5.4h-1.68zM60.22 41.85h1.68v5.4h-1.68zM62.50 41.85h1.68v5.4h-1.68zM64.78 41.85h1.68v5.4h-1.68zM67.05 41.85h1.68v5.4h-1.68zM69.33 41.85h1.68v5.4h-1.68zM71.60 41.85h1.68v5.4h-1.68zM73.88 41.85h1.68v5.4h-1.68zM76.15 41.85h1.68v5.4h-1.68zM78.42 41.85h1.68v5.4h-1.68zM80.70 41.85h1.68v5.4h-1.68zM82.97 41.85h1.68v5.4h-1.68zM85.25 41.85h1.68v5.4h-1.68zM87.53 41.85h1.68v5.4h-1.68zM89.80 41.85h1.68v5.4h-1.68zM92.07 41.85h1.68v5.4h-1.68zM94.35 41.85h1.68v5.4h-1.68zM96.62 41.85h1.68v5.4h-1.68zM98.90 41.85h1.68v5.4h-1.68zM101.17 41.85h1.68v5.4h-1.68zM103.45 41.85h1.68v5.4h-1.68zM105.72 41.85h1.68v5.4h-1.68zM108.00 41.85h1.68v5.4h-1.68zM110.28 41.85h1.68v5.4h-1.68zM112.55 41.85h1.68v5.4h-1.68zM114.82 41.85h1.68v5.4h-1.68zM117.10 41.85h1.68v5.4h-1.68zM119.38 41.85h1.68v5.4h-1.68zM121.65 41.85h1.68v5.4h-1.68zM123.92 41.85h1.68v5.4h-1.68zM126.20 41.85h1.68v5.4h-1.68zM128.47 41.85h1.68v5.4h-1.68zM130.75 41.85h1.68v5.4h-1.68zM133.03 41.85h1.68v5.4h-1.68zM135.30 41.85h1.68v5.4h-1.68zM137.57 41.85h1.68v5.4h-1.68zM139.85 41.85h1.68v5.4h-1.68zM142.12 41.85h1.68v5.4h-1.68zM144.40 41.85h1.68v5.4h-1.68zM146.67 41.85h1.68v5.4h-1.68zM148.95 41.85h1.68v5.4h-1.68zM151.22 41.85h1.68v5.4h-1.68zM153.50 41.85h1.68v5.4h-1.68zM155.78 41.85h1.68v5.4h-1.68zM158.05 41.85h1.68v5.4h-1.68zM160.32 41.85h1.68v5.4h-1.68zM162.60 41.85h1.68v5.4h-1.68zM164.88 41.85h1.68v5.4h-1.68zM167.15 41.85h1.68v5.4h-1.68zM169.42 41.85h1.68v5.4h-1.68zM171.70 41.85h1.68v5.4h-1.68zM173.97 41.85h1.68v5.4h-1.68zM176.25 41.85h1.68v5.4h-1.68zM178.53 41.85h1.68v5.4h-1.68zM180.80 41.85h1.68v5.4h-1.68zM183.07 41.85h1.68v5.4h-1.68zM185.35 41.85h1.68v5.4h-1.68zM187.62 41.85h1.68v5.4h-1.68zM189.90 41.85h1.68v5.4h-1.68zM192.18 41.85h1.68v5.4h-1.68zM194.45 41.85h1.68v5.4h-1.68zM196.72 41.85h1.68v5.4h-1.68zM199.00 41.85h1.68v5.4h-1.68zM201.28 41.85h1.68v5.4h-1.68zM203.55 41.85h1.68v5.4h-1.68zM205.82 41.85h1.68v5.4h-1.68zM208.10 41.85h1.68v5.4h-1.68zM210.38 41.85h1.68v5.4h-1.68zM212.65 41.85h1.68v5.4h-1.68zM214.93 41.85h1.68v5.4h-1.68zM217.20 41.85h1.68v5.4h-1.68zM219.47 41.85h1.68v5.4h-1.68zM221.75 41.85h1.68v5.4h-1.68zM224.03 41.85h1.68v5.4h-1.68zM226.30 41.85h1.68v5.4h-1.68zM228.57 41.85h1.68v5.4h-1.68zM230.85 41.85h1.68v5.4h-1.68zM233.12 41.85h1.68v5.4h-1.68zM235.40 41.85h1.68v5.4h-1.68zM237.68 41.85h1.68v5.4h-1.68zM239.95 41.85h1.68v5.4h-1.68zM242.22 41.85h1.68v5.4h-1.68zM244.50 41.85h1.68v5.4h-1.68zM246.78 41.85h1.68v5.4h-1.68zM249.05 41.85h1.68v5.4h-1.68zM251.32 41.85h1.68v5.4h-1.68zM253.60 41.85h1.68v5.4h-1.68zM255.88 41.85h1.68v5.4h-1.68zM258.15 41.85h1.68v5.4h-1.68zM260.43 41.85h1.68v5.4h-1.68zM262.70 41.85h1.68v5.4h-1.68zM264.97 41.85h1.68v5.4h-1.68zM267.25 41.85h1.68v5.4h-1.68zM269.52 41.85h1.68v5.4h-1.68zM271.80 41.85h1.68v5.4h-1.68zM276.35 41.85h1.68v5.4h-1.68zM278.62 41.85h1.68v5.4h-1.68zM280.90 41.85h1.68v5.4h-1.68zM283.17 41.85h1.68v5.4h-1.68zM285.45 41.85h1.68v5.4h-1.68zM287.72 41.85h1.68v5.4h-1.68zM290.00 41.85h1.68v5.4h-1.68zM292.27 41.85h1.68v5.4h-1.68zM294.55 41.85h1.68v5.4h-1.68zM296.82 41.85h1.68v5.4h-1.68zM299.10 41.85h1.68v5.4h-1.68zM301.38 41.85h1.68v5.4h-1.68zM303.65 41.85h1.68v5.4h-1.68zM305.92 41.85h1.68v5.4h-1.68zM308.20 41.85h1.68v5.4h-1.68zM310.47 41.85h1.68v5.4h-1.68zM312.75 41.85h1.68v5.4h-1.68zM315.02 41.85h1.68v5.4h-1.68zM317.30 41.85h1.68v5.4h-1.68zM319.57 41.85h1.68v5.4h-1.68zM321.85 41.85h1.68v5.4h-1.68zM324.12 41.85h1.68v5.4h-1.68zM326.40 41.85h1.68v5.4h-1.68zM328.67 41.85h1.68v5.4h-1.68zM330.95 41.85h1.68v5.4h-1.68zM333.22 41.85h1.68v5.4h-1.68zM335.50 41.85h1.68v5.4h-1.68zM337.77 41.85h1.68v5.4h-1.68zM340.05 41.85h1.68v5.4h-1.68zM342.32 41.85h1.68v5.4h-1.68zM344.60 41.85h1.68v5.4h-1.68zM346.87 41.85h1.68v5.4h-1.68zM349.15 41.85h1.68v5.4h-1.68zM351.42 41.85h1.68v5.4h-1.68zM353.70 41.85h1.68v5.4h-1.68zM369.62 41.85h1.68v5.4h-1.68zM371.90 41.85h1.68v5.4h-1.68z" fill="#c4c4c4"/>
<path d="M274.07 41.85h1.68v5.4h-1.68zM355.97 41.85h1.68v5.4h-1.68zM358.25 41.85h1.68v5.4h-1.68zM360.52 41.85h1.68v5.4h-1.68zM362.80 41.85h1.68v5.4h-1.68zM365.07 41.85h1.68v5.4h-1.68z" fill="#ff0000"/>
<path d="M367.35 41.85h1.68v5.4h-1.68z" fill="#0000ff"/>
<path d="M82.97 43.55h1.68v2.0h-1.68zM369.62 43.55h1.68v2.0h-1.68zM371.90 43.55h1.68v2.0h-1.68z" fill="#2ed010"/>
<text x="13.80" y="59.23" font-size="4.1" font-weight="bold" fill="#111" stroke="#111" textLength="35.00" lengthAdjust="spacingAndGlyphs" transform="rotate(0.03 13.80 59.23)">Genetic alteration</text>
<rect x="67.70" y="56.00" width="1.40" height="5.40" fill="#b4b8bc"/>
<rect x="67.70" y="57.20" width="1.40" height="3.10" fill="#2ed010"/>
<text x="72.50" y="58.20" font-size="4.0" fill="#333333" stroke="#333333" textLength="32.50" lengthAdjust="spacingAndGlyphs" transform="rotate(0.03 72.50 58.20)">Missense Mutation</text>
<text x="72.50" y="63.00" font-size="4.0" fill="#333333" stroke="#333333" textLength="39.90" lengthAdjust="spacingAndGlyphs" transform="rotate(0.03 72.50 63.00)">(unknown significance)</text>
<rect x="126.20" y="56.00" width="1.40" height="5.40" fill="#b4b8bc"/>
<rect x="126.20" y="57.20" width="1.40" height="3.10" fill="#f0b87b"/>
<text x="130.50" y="58.20" font-size="4.0" fill="#333333" stroke="#333333" textLength="27.20" lengthAdjust="spacingAndGlyphs" transform="rotate(0.03 130.50 58.20)">Splice Mutation</text>
<text x="130.50" y="63.00" font-size="4.0" fill="#333333" stroke="#333333" textLength="39.50" lengthAdjust="spacingAndGlyphs" transform="rotate(0.03 130.50 63.00)">(unknown significance)</text>
<rect x="183.30" y="56.00" width="1.40" height="5.40" fill="#b4b8bc"/>
<rect x="183.30" y="57.20" width="1.40" height="3.10" fill="#4f5d66"/>
<text x="187.90" y="58.20" font-size="4.0" fill="#333333" stroke="#333333" textLength="36.20" lengthAdjust="spacingAndGlyphs" transform="rotate(0.03 187.90 58.20)">Truncating Mutation</text>
<text x="187.90" y="63.00" font-size="4.0" fill="#333333" stroke="#333333" textLength="40.30" lengthAdjust="spacingAndGlyphs" transform="rotate(0.03 187.90 63.00)">(unknown significance)</text>
<rect x="239.15" y="56.00" width="1.60" height="5.50" fill="#ff0000"/>
<text x="245.10" y="60.00" font-size="4.0" fill="#333333" stroke="#333333" textLength="22.60" lengthAdjust="spacingAndGlyphs" transform="rotate(0.03 245.10 60.00)">Amplification</text>
<rect x="275.30" y="56.00" width="1.60" height="5.50" fill="#0000ff"/>
<text x="281.10" y="60.00" font-size="4.0" fill="#333333" stroke="#333333" textLength="23.90" lengthAdjust="spacingAndGlyphs" transform="rotate(0.03 281.10 60.00)">Deep Deletion</text>
<rect x="310.50" y="56.00" width="1.40" height="5.50" fill="#b8b8b8"/>
<text x="315.10" y="60.00" font-size="4.0" fill="#333333" stroke="#333333" textLength="24.60" lengthAdjust="spacingAndGlyphs" transform="rotate(0.03 315.10 60.00)">No alterations</text>
<text x="5.80" y="77.84" font-size="5.1" font-weight="bold" fill="#000" stroke="#000" transform="rotate(0.03 5.80 77.84)">B</text>
<text x="62.9" y="75.8" font-size="4.7" textLength="39.7" lengthAdjust="spacingAndGlyphs" fill="#1a1a1a" stroke="#1a1a1a" style="stroke-width:0.15px" transform="rotate(0.03 63 76)"><tspan font-style="italic">TFAP2</tspan> gene family</text>
<rect x="51.05" y="80.10" width="0.50" height="75.40" fill="#c8c8c8"/>
<rect x="50.00" y="87.00" width="1.30" height="0.40" fill="#999"/>
<text x="49.95" y="88.57" font-size="3.25" text-anchor="end" fill="#444" stroke="#444" transform="rotate(0.03 49.95 88.57)">12%</text>
<rect x="50.00" y="98.30" width="1.30" height="0.40" fill="#999"/>
<text x="49.95" y="99.87" font-size="3.25" text-anchor="end" fill="#444" stroke="#444" transform="rotate(0.03 49.95 99.87)">10%</text>
<rect x="50.00" y="110.20" width="1.30" height="0.40" fill="#999"/>
<text x="49.95" y="111.77" font-size="3.25" text-anchor="end" fill="#444" stroke="#444" transform="rotate(0.03 49.95 111.77)">8%</text>
<rect x="50.00" y="121.40" width="1.30" height="0.40" fill="#999"/>
<text x="49.95" y="122.97" font-size="3.25" text-anchor="end" fill="#444" stroke="#444" transform="rotate(0.03 49.95 122.97)">6%</text>
<rect x="50.00" y="132.80" width="1.30" height="0.40" fill="#999"/>
<text x="49.95" y="134.37" font-size="3.25" text-anchor="end" fill="#444" stroke="#444" transform="rotate(0.03 49.95 134.37)">4%</text>
<rect x="50.00" y="144.10" width="1.30" height="0.40" fill="#999"/>
<text x="49.95" y="145.67" font-size="3.25" text-anchor="end" fill="#444" stroke="#444" transform="rotate(0.03 49.95 145.67)">2%</text>
<rect x="52.05" y="84.80" width="5.20" height="44.50" fill="#008000"/>
<rect x="52.05" y="129.30" width="5.20" height="22.30" fill="#ff0000"/>
<rect x="52.05" y="151.60" width="5.20" height="2.10" fill="#0000ff"/>
<rect x="52.05" y="153.70" width="5.20" height="1.80" fill="#555555"/>
<text x="33.40" y="117.50" font-size="3.9" text-anchor="middle" textLength="37.00" lengthAdjust="spacingAndGlyphs" transform="rotate(-89.97 33.40 117.50)" dy="1.15" fill="#4a4a4a" stroke="#4a4a4a" style="stroke-width:0.05px">Alteration Frequency</text>
<text x="49.90" y="162.00" font-size="4.0" text-anchor="end" fill="#333333" stroke="#333333" textLength="39.20" lengthAdjust="spacingAndGlyphs" transform="rotate(0.03 49.90 162.00)">Structural variant data</text>
<circle cx="54.70" cy="160.40" r="1.05" fill="#111"/>
<text x="49.90" y="168.20" font-size="4.0" text-anchor="end" fill="#333333" stroke="#333333" textLength="26.00" lengthAdjust="spacingAndGlyphs" transform="rotate(0.03 49.90 168.20)">Mutation data</text>
<circle cx="54.70" cy="166.60" r="1.05" fill="#111"/>
<text x="49.90" y="174.30" font-size="4.0" text-anchor="end" fill="#333333" stroke="#333333" textLength="17.10" lengthAdjust="spacingAndGlyphs" transform="rotate(0.03 49.90 174.30)">CNA data</text>
<circle cx="54.70" cy="172.70" r="1.05" fill="#111"/>
<text x="52.90" y="178.50" font-size="3.1" textLength="42.00" lengthAdjust="spacingAndGlyphs" transform="rotate(49.60 52.90 178.50)" dy="0.9" fill="#222" stroke="#222" style="stroke-width:0.07px">Non-Small Cell Lung Cancer</text>
<rect x="114.15" y="80.10" width="0.50" height="75.40" fill="#c8c8c8"/>
<rect x="113.10" y="88.00" width="1.30" height="0.40" fill="#999"/>
<text x="113.05" y="89.57" font-size="3.25" text-anchor="end" fill="#444" stroke="#444" transform="rotate(0.03 113.05 89.57)">12%</text>
<rect x="113.10" y="99.30" width="1.30" height="0.40" fill="#999"/>
<text x="113.05" y="100.87" font-size="3.25" text-anchor="end" fill="#444" stroke="#444" transform="rotate(0.03 113.05 100.87)">10%</text>
<rect x="113.10" y="110.50" width="1.30" height="0.40" fill="#999"/>
<text x="113.05" y="112.07" font-size="3.25" text-anchor="end" fill="#444" stroke="#444" transform="rotate(0.03 113.05 112.07)">8%</text>
<rect x="113.10" y="121.90" width="1.30" height="0.40" fill="#999"/>
<text x="113.05" y="123.47" font-size="3.25" text-anchor="end" fill="#444" stroke="#444" transform="rotate(0.03 113.05 123.47)">6%</text>
<rect x="113.10" y="133.10" width="1.30" height="0.40" fill="#999"/>
<text x="113.05" y="134.67" font-size="3.25" text-anchor="end" fill="#444" stroke="#444" transform="rotate(0.03 113.05 134.67)">4%</text>
<rect x="113.10" y="144.10" width="1.30" height="0.40" fill="#999"/>
<text x="113.05" y="145.67" font-size="3.25" text-anchor="end" fill="#444" stroke="#444" transform="rotate(0.03 113.05 145.67)">2%</text>
<rect x="116.00" y="84.80" width="5.25" height="41.10" fill="#008000"/>
<rect x="116.00" y="125.90" width="5.25" height="25.80" fill="#ff0000"/>
<rect x="116.00" y="151.70" width="5.25" height="1.50" fill="#0000ff"/>
<rect x="116.00" y="153.20" width="5.25" height="2.30" fill="#555555"/>
<rect x="122.30" y="88.20" width="5.20" height="46.90" fill="#008000"/>
<rect x="122.30" y="135.10" width="5.20" height="15.80" fill="#ff0000"/>
<rect x="122.30" y="150.90" width="5.20" height="2.30" fill="#0000ff"/>
<rect x="122.30" y="153.20" width="5.20" height="2.30" fill="#555555"/>
<text x="97.80" y="117.85" font-size="3.9" text-anchor="middle" textLength="36.30" lengthAdjust="spacingAndGlyphs" transform="rotate(-89.97 97.80 117.85)" dy="1.15" fill="#4a4a4a" stroke="#4a4a4a" style="stroke-width:0.05px">Alteration Frequency</text>
<text x="114.00" y="161.70" font-size="4.0" text-anchor="end" fill="#333333" stroke="#333333" textLength="39.20" lengthAdjust="spacingAndGlyphs" transform="rotate(0.03 114.00 161.70)">Structural variant data</text>
<circle cx="118.40" cy="160.10" r="1.05" fill="#111"/>
<circle cx="124.85" cy="160.10" r="1.05" fill="#111"/>
<text x="114.00" y="167.90" font-size="4.0" text-anchor="end" fill="#333333" stroke="#333333" textLength="26.00" lengthAdjust="spacingAndGlyphs" transform="rotate(0.03 114.00 167.90)">Mutation data</text>
<circle cx="118.40" cy="166.30" r="1.05" fill="#111"/>
<circle cx="124.85" cy="166.30" r="1.05" fill="#111"/>
<text x="114.00" y="173.90" font-size="4.0" text-anchor="end" fill="#333333" stroke="#333333" textLength="17.10" lengthAdjust="spacingAndGlyphs" transform="rotate(0.03 114.00 173.90)">CNA data</text>
<circle cx="118.40" cy="172.30" r="1.05" fill="#111"/>
<circle cx="124.85" cy="172.30" r="1.05" fill="#111"/>
<text x="116.60" y="178.10" font-size="3.1" textLength="33.20" lengthAdjust="spacingAndGlyphs" transform="rotate(49.60 116.60 178.10)" dy="0.9" fill="#222" stroke="#222" style="stroke-width:0.07px">Lung Adenocarcinoma</text>
<text x="123.05" y="178.10" font-size="3.1" textLength="47.30" lengthAdjust="spacingAndGlyphs" transform="rotate(49.60 123.05 178.10)" dy="0.9" fill="#222" stroke="#222" style="stroke-width:0.07px">Lung Squamous Cell Carcinoma</text>
<text x="186.00" y="78.54" font-size="5.1" font-weight="bold" fill="#000" stroke="#000" transform="rotate(0.03 186.00 78.54)">C</text>
<text x="255.50" y="76.29" font-size="4.7" font-style="italic" fill="#1a1a1a" stroke="#1a1a1a" textLength="16.60" lengthAdjust="spacingAndGlyphs" transform="rotate(0.03 255.50 76.29)" style="stroke-width:0.15px">TFAP2A</text>
<rect x="231.15" y="81.50" width="0.50" height="75.20" fill="#c8c8c8"/>
<rect x="230.10" y="86.50" width="1.30" height="0.40" fill="#999"/>
<text x="230.05" y="88.07" font-size="3.25" text-anchor="end" fill="#444" stroke="#444" transform="rotate(0.03 230.05 88.07)">2%</text>
<rect x="230.10" y="104.10" width="1.30" height="0.40" fill="#999"/>
<text x="230.05" y="105.67" font-size="3.25" text-anchor="end" fill="#444" stroke="#444" transform="rotate(0.03 230.05 105.67)">1.5%</text>
<rect x="230.10" y="121.70" width="1.30" height="0.40" fill="#999"/>
<text x="230.05" y="123.27" font-size="3.25" text-anchor="end" fill="#444" stroke="#444" transform="rotate(0.03 230.05 123.27)">1%</text>
<rect x="230.10" y="139.20" width="1.30" height="0.40" fill="#999"/>
<text x="230.05" y="140.77" font-size="3.25" text-anchor="end" fill="#444" stroke="#444" transform="rotate(0.03 230.05 140.77)">0.5%</text>
<rect x="232.30" y="86.40" width="5.30" height="37.00" fill="#008000"/>
<rect x="232.30" y="123.40" width="5.30" height="30.80" fill="#ff0000"/>
<rect x="232.30" y="154.20" width="5.30" height="2.50" fill="#0000ff"/>
<text x="214.60" y="118.85" font-size="3.9" text-anchor="middle" textLength="36.70" lengthAdjust="spacingAndGlyphs" transform="rotate(-89.97 214.60 118.85)" dy="1.15" fill="#4a4a4a" stroke="#4a4a4a" style="stroke-width:0.05px">Alteration Frequency</text>
<text x="229.80" y="163.10" font-size="4.0" text-anchor="end" fill="#333333" stroke="#333333" textLength="39.20" lengthAdjust="spacingAndGlyphs" transform="rotate(0.03 229.80 163.10)">Structural variant data</text>
<circle cx="235.10" cy="161.50" r="1.05" fill="#111"/>
<text x="229.80" y="169.30" font-size="4.0" text-anchor="end" fill="#333333" stroke="#333333" textLength="26.00" lengthAdjust="spacingAndGlyphs" transform="rotate(0.03 229.80 169.30)">Mutation data</text>
<circle cx="235.10" cy="167.70" r="1.05" fill="#111"/>
<text x="229.80" y="175.50" font-size="4.0" text-anchor="end" fill="#333333" stroke="#333333" textLength="17.10" lengthAdjust="spacingAndGlyphs" transform="rotate(0.03 229.80 175.50)">CNA data</text>
<circle cx="235.10" cy="173.90" r="1.05" fill="#111"/>
<text x="233.30" y="179.70" font-size="3.1" textLength="42.00" lengthAdjust="spacingAndGlyphs" transform="rotate(49.60 233.30 179.70)" dy="0.9" fill="#222" stroke="#222" style="stroke-width:0.07px">Non-Small Cell Lung Cancer</text>
<rect x="299.35" y="81.50" width="0.50" height="75.50" fill="#c8c8c8"/>
<rect x="298.30" y="88.00" width="1.30" height="0.40" fill="#999"/>
<text x="298.25" y="89.57" font-size="3.25" text-anchor="end" fill="#444" stroke="#444" transform="rotate(0.03 298.25 89.57)">2%</text>
<rect x="298.30" y="105.10" width="1.30" height="0.40" fill="#999"/>
<text x="298.25" y="106.67" font-size="3.25" text-anchor="end" fill="#444" stroke="#444" transform="rotate(0.03 298.25 106.67)">1.5%</text>
<rect x="298.30" y="122.40" width="1.30" height="0.40" fill="#999"/>
<text x="298.25" y="123.97" font-size="3.25" text-anchor="end" fill="#444" stroke="#444" transform="rotate(0.03 298.25 123.97)">1%</text>
<rect x="298.30" y="139.80" width="1.30" height="0.40" fill="#999"/>
<text x="298.25" y="141.37" font-size="3.25" text-anchor="end" fill="#444" stroke="#444" transform="rotate(0.03 298.25 141.37)">0.5%</text>
<rect x="300.70" y="86.50" width="5.20" height="42.50" fill="#008000"/>
<rect x="300.70" y="129.00" width="5.20" height="28.00" fill="#ff0000"/>
<rect x="307.00" y="89.70" width="5.20" height="31.10" fill="#008000"/>
<rect x="307.00" y="120.80" width="5.20" height="31.10" fill="#ff0000"/>
<rect x="307.00" y="151.90" width="5.20" height="5.10" fill="#0000ff"/>
<text x="283.00" y="118.75" font-size="3.9" text-anchor="middle" textLength="36.50" lengthAdjust="spacingAndGlyphs" transform="rotate(-89.97 283.00 118.75)" dy="1.15" fill="#4a4a4a" stroke="#4a4a4a" style="stroke-width:0.05px">Alteration Frequency</text>
<text x="297.40" y="163.10" font-size="4.0" text-anchor="end" fill="#333333" stroke="#333333" textLength="39.20" lengthAdjust="spacingAndGlyphs" transform="rotate(0.03 297.40 163.10)">Structural variant data</text>
<circle cx="303.30" cy="161.50" r="1.05" fill="#111"/>
<circle cx="309.65" cy="161.50" r="1.05" fill="#111"/>
<text x="297.40" y="169.30" font-size="4.0" text-anchor="end" fill="#333333" stroke="#333333" textLength="26.00" lengthAdjust="spacingAndGlyphs" transform="rotate(0.03 297.40 169.30)">Mutation data</text>
<circle cx="303.30" cy="167.70" r="1.05" fill="#111"/>
<circle cx="309.65" cy="167.70" r="1.05" fill="#111"/>
<text x="297.40" y="175.50" font-size="4.0" text-anchor="end" fill="#333333" stroke="#333333" textLength="17.10" lengthAdjust="spacingAndGlyphs" transform="rotate(0.03 297.40 175.50)">CNA data</text>
<circle cx="303.30" cy="173.90" r="1.05" fill="#111"/>
<circle cx="309.65" cy="173.90" r="1.05" fill="#111"/>
<text x="301.50" y="179.70" font-size="3.1" textLength="47.30" lengthAdjust="spacingAndGlyphs" transform="rotate(49.60 301.50 179.70)" dy="0.9" fill="#222" stroke="#222" style="stroke-width:0.07px">Lung Squamous Cell Carcinoma</text>
<text x="307.85" y="179.70" font-size="3.1" textLength="33.20" lengthAdjust="spacingAndGlyphs" transform="rotate(49.60 307.85 179.70)" dy="0.9" fill="#222" stroke="#222" style="stroke-width:0.07px">Lung Adenocarcinoma</text>
<text x="5.60" y="236.14" font-size="5.1" font-weight="bold" fill="#000" stroke="#000" transform="rotate(0.03 5.60 236.14)">D</text>
<text x="73.90" y="236.99" font-size="4.7" font-style="italic" fill="#1a1a1a" stroke="#1a1a1a" textLength="16.50" lengthAdjust="spacingAndGlyphs" transform="rotate(0.03 73.90 236.99)" style="stroke-width:0.15px">TFAP2B</text>
<rect x="50.45" y="238.60" width="0.50" height="77.40" fill="#c8c8c8"/>
<rect x="49.40" y="240.60" width="1.30" height="0.40" fill="#999"/>
<text x="49.35" y="242.17" font-size="3.25" text-anchor="end" fill="#444" stroke="#444" transform="rotate(0.03 49.35 242.17)">4%</text>
<rect x="49.40" y="259.20" width="1.30" height="0.40" fill="#999"/>
<text x="49.35" y="260.77" font-size="3.25" text-anchor="end" fill="#444" stroke="#444" transform="rotate(0.03 49.35 260.77)">3%</text>
<rect x="49.40" y="278.30" width="1.30" height="0.40" fill="#999"/>
<text x="49.35" y="279.87" font-size="3.25" text-anchor="end" fill="#444" stroke="#444" transform="rotate(0.03 49.35 279.87)">2%</text>
<rect x="49.40" y="296.90" width="1.30" height="0.40" fill="#999"/>
<text x="49.35" y="298.47" font-size="3.25" text-anchor="end" fill="#444" stroke="#444" transform="rotate(0.03 49.35 298.47)">1%</text>
<rect x="51.40" y="245.20" width="5.20" height="41.20" fill="#008000"/>
<rect x="51.40" y="286.40" width="5.20" height="29.40" fill="#ff0000"/>
<text x="33.90" y="277.85" font-size="3.9" text-anchor="middle" textLength="35.90" lengthAdjust="spacingAndGlyphs" transform="rotate(-89.97 33.90 277.85)" dy="1.15" fill="#4a4a4a" stroke="#4a4a4a" style="stroke-width:0.05px">Alteration Frequency</text>
<text x="49.80" y="321.80" font-size="4.0" text-anchor="end" fill="#333333" stroke="#333333" textLength="39.20" lengthAdjust="spacingAndGlyphs" transform="rotate(0.03 49.80 321.80)">Structural variant data</text>
<circle cx="54.00" cy="320.20" r="1.05" fill="#111"/>
<text x="49.80" y="328.00" font-size="4.0" text-anchor="end" fill="#333333" stroke="#333333" textLength="26.00" lengthAdjust="spacingAndGlyphs" transform="rotate(0.03 49.80 328.00)">Mutation data</text>
<circle cx="54.00" cy="326.40" r="1.05" fill="#111"/>
<text x="49.80" y="334.10" font-size="4.0" text-anchor="end" fill="#333333" stroke="#333333" textLength="17.10" lengthAdjust="spacingAndGlyphs" transform="rotate(0.03 49.80 334.10)">CNA data</text>
<circle cx="54.00" cy="332.50" r="1.05" fill="#111"/>
<text x="52.20" y="338.30" font-size="3.1" textLength="42.00" lengthAdjust="spacingAndGlyphs" transform="rotate(49.60 52.20 338.30)" dy="0.9" fill="#222" stroke="#222" style="stroke-width:0.07px">Non-Small Cell Lung Cancer</text>
<rect x="114.45" y="239.30" width="0.50" height="75.40" fill="#c8c8c8"/>
<rect x="113.40" y="246.20" width="1.30" height="0.40" fill="#999"/>
<text x="113.35" y="247.77" font-size="3.25" text-anchor="end" fill="#444" stroke="#444" transform="rotate(0.03 113.35 247.77)">4%</text>
<rect x="113.40" y="263.00" width="1.30" height="0.40" fill="#999"/>
<text x="113.35" y="264.57" font-size="3.25" text-anchor="end" fill="#444" stroke="#444" transform="rotate(0.03 113.35 264.57)">3%</text>
<rect x="113.40" y="280.10" width="1.30" height="0.40" fill="#999"/>
<text x="113.35" y="281.67" font-size="3.25" text-anchor="end" fill="#444" stroke="#444" transform="rotate(0.03 113.35 281.67)">2%</text>
<rect x="113.40" y="297.10" width="1.30" height="0.40" fill="#999"/>
<text x="113.35" y="298.67" font-size="3.25" text-anchor="end" fill="#444" stroke="#444" transform="rotate(0.03 113.35 298.67)">1%</text>
<rect x="115.80" y="244.10" width="5.20" height="39.00" fill="#008000"/>
<rect x="115.80" y="283.10" width="5.20" height="31.60" fill="#ff0000"/>
<rect x="122.30" y="255.10" width="5.20" height="36.60" fill="#008000"/>
<rect x="122.30" y="291.70" width="5.20" height="23.00" fill="#ff0000"/>
<text x="98.00" y="276.95" font-size="3.9" text-anchor="middle" textLength="36.10" lengthAdjust="spacingAndGlyphs" transform="rotate(-89.97 98.00 276.95)" dy="1.15" fill="#4a4a4a" stroke="#4a4a4a" style="stroke-width:0.05px">Alteration Frequency</text>
<text x="113.90" y="320.90" font-size="4.0" text-anchor="end" fill="#333333" stroke="#333333" textLength="39.20" lengthAdjust="spacingAndGlyphs" transform="rotate(0.03 113.90 320.90)">Structural variant data</text>
<circle cx="118.30" cy="319.30" r="1.05" fill="#111"/>
<circle cx="124.80" cy="319.30" r="1.05" fill="#111"/>
<text x="113.90" y="327.00" font-size="4.0" text-anchor="end" fill="#333333" stroke="#333333" textLength="26.00" lengthAdjust="spacingAndGlyphs" transform="rotate(0.03 113.90 327.00)">Mutation data</text>
<circle cx="118.30" cy="325.40" r="1.05" fill="#111"/>
<circle cx="124.80" cy="325.40" r="1.05" fill="#111"/>
<text x="113.90" y="333.10" font-size="4.0" text-anchor="end" fill="#333333" stroke="#333333" textLength="17.10" lengthAdjust="spacingAndGlyphs" transform="rotate(0.03 113.90 333.10)">CNA data</text>
<circle cx="118.30" cy="331.50" r="1.05" fill="#111"/>
<circle cx="124.80" cy="331.50" r="1.05" fill="#111"/>
<text x="116.50" y="337.30" font-size="3.1" textLength="47.30" lengthAdjust="spacingAndGlyphs" transform="rotate(49.60 116.50 337.30)" dy="0.9" fill="#222" stroke="#222" style="stroke-width:0.07px">Lung Squamous Cell Carcinoma</text>
<text x="123.00" y="337.30" font-size="3.1" textLength="33.20" lengthAdjust="spacingAndGlyphs" transform="rotate(49.60 123.00 337.30)" dy="0.9" fill="#222" stroke="#222" style="stroke-width:0.07px">Lung Adenocarcinoma</text>
<text x="188.40" y="236.54" font-size="5.1" font-weight="bold" fill="#000" stroke="#000" transform="rotate(0.03 188.40 236.54)">E</text>
<text x="257.10" y="236.99" font-size="4.7" font-style="italic" fill="#1a1a1a" stroke="#1a1a1a" textLength="16.50" lengthAdjust="spacingAndGlyphs" transform="rotate(0.03 257.10 236.99)" style="stroke-width:0.15px">TFAP2C</text>
<rect x="230.75" y="238.00" width="0.50" height="76.30" fill="#c8c8c8"/>
<rect x="229.70" y="249.30" width="1.30" height="0.40" fill="#999"/>
<text x="229.65" y="250.87" font-size="3.25" text-anchor="end" fill="#444" stroke="#444" transform="rotate(0.03 229.65 250.87)">2.5%</text>
<rect x="229.70" y="262.00" width="1.30" height="0.40" fill="#999"/>
<text x="229.65" y="263.57" font-size="3.25" text-anchor="end" fill="#444" stroke="#444" transform="rotate(0.03 229.65 263.57)">2%</text>
<rect x="229.70" y="275.00" width="1.30" height="0.40" fill="#999"/>
<text x="229.65" y="276.57" font-size="3.25" text-anchor="end" fill="#444" stroke="#444" transform="rotate(0.03 229.65 276.57)">1.5%</text>
<rect x="229.70" y="287.70" width="1.30" height="0.40" fill="#999"/>
<text x="229.65" y="289.27" font-size="3.25" text-anchor="end" fill="#444" stroke="#444" transform="rotate(0.03 229.65 289.27)">1%</text>
<rect x="229.70" y="300.70" width="1.30" height="0.40" fill="#999"/>
<text x="229.65" y="302.27" font-size="3.25" text-anchor="end" fill="#444" stroke="#444" transform="rotate(0.03 229.65 302.27)">0.5%</text>
<rect x="231.80" y="243.70" width="5.20" height="27.40" fill="#008000"/>
<rect x="231.80" y="271.10" width="5.20" height="40.70" fill="#ff0000"/>
<rect x="231.80" y="311.80" width="5.20" height="2.50" fill="#0000ff"/>
<text x="214.30" y="275.05" font-size="3.9" text-anchor="middle" textLength="36.50" lengthAdjust="spacingAndGlyphs" transform="rotate(-89.97 214.30 275.05)" dy="1.15" fill="#4a4a4a" stroke="#4a4a4a" style="stroke-width:0.05px">Alteration Frequency</text>
<text x="230.00" y="320.30" font-size="4.0" text-anchor="end" fill="#333333" stroke="#333333" textLength="39.20" lengthAdjust="spacingAndGlyphs" transform="rotate(0.03 230.00 320.30)">Structural variant data</text>
<circle cx="234.30" cy="318.70" r="1.05" fill="#111"/>
<text x="230.00" y="326.50" font-size="4.0" text-anchor="end" fill="#333333" stroke="#333333" textLength="26.00" lengthAdjust="spacingAndGlyphs" transform="rotate(0.03 230.00 326.50)">Mutation data</text>
<circle cx="234.30" cy="324.90" r="1.05" fill="#111"/>
<text x="230.00" y="332.70" font-size="4.0" text-anchor="end" fill="#333333" stroke="#333333" textLength="17.10" lengthAdjust="spacingAndGlyphs" transform="rotate(0.03 230.00 332.70)">CNA data</text>
<circle cx="234.30" cy="331.10" r="1.05" fill="#111"/>
<text x="232.50" y="336.90" font-size="3.1" textLength="42.00" lengthAdjust="spacingAndGlyphs" transform="rotate(49.60 232.50 336.90)" dy="0.9" fill="#222" stroke="#222" style="stroke-width:0.07px">Non-Small Cell Lung Cancer</text>
<rect x="296.55" y="238.50" width="0.50" height="75.90" fill="#c8c8c8"/>
<rect x="295.50" y="239.60" width="1.30" height="0.40" fill="#999"/>
<text x="295.45" y="241.17" font-size="3.25" text-anchor="end" fill="#444" stroke="#444" transform="rotate(0.03 295.45 241.17)">4%</text>
<rect x="295.50" y="258.20" width="1.30" height="0.40" fill="#999"/>
<text x="295.45" y="259.77" font-size="3.25" text-anchor="end" fill="#444" stroke="#444" transform="rotate(0.03 295.45 259.77)">3%</text>
<rect x="295.50" y="277.00" width="1.30" height="0.40" fill="#999"/>
<text x="295.45" y="278.57" font-size="3.25" text-anchor="end" fill="#444" stroke="#444" transform="rotate(0.03 295.45 278.57)">2%</text>
<rect x="295.50" y="295.60" width="1.30" height="0.40" fill="#999"/>
<text x="295.45" y="297.17" font-size="3.25" text-anchor="end" fill="#444" stroke="#444" transform="rotate(0.03 295.45 297.17)">1%</text>
<rect x="297.70" y="243.70" width="5.10" height="25.60" fill="#008000"/>
<rect x="297.70" y="269.30" width="5.10" height="45.10" fill="#ff0000"/>
<rect x="304.00" y="291.20" width="5.10" height="11.70" fill="#008000"/>
<rect x="304.00" y="302.90" width="5.10" height="8.00" fill="#ff0000"/>
<rect x="304.00" y="310.90" width="5.10" height="3.50" fill="#0000ff"/>
<text x="279.90" y="274.25" font-size="3.9" text-anchor="middle" textLength="36.50" lengthAdjust="spacingAndGlyphs" transform="rotate(-89.97 279.90 274.25)" dy="1.15" fill="#4a4a4a" stroke="#4a4a4a" style="stroke-width:0.05px">Alteration Frequency</text>
<text x="295.80" y="320.40" font-size="4.0" text-anchor="end" fill="#333333" stroke="#333333" textLength="39.20" lengthAdjust="spacingAndGlyphs" transform="rotate(0.03 295.80 320.40)">Structural variant data</text>
<circle cx="300.10" cy="318.80" r="1.05" fill="#111"/>
<circle cx="306.50" cy="318.80" r="1.05" fill="#111"/>
<text x="295.80" y="326.60" font-size="4.0" text-anchor="end" fill="#333333" stroke="#333333" textLength="26.00" lengthAdjust="spacingAndGlyphs" transform="rotate(0.03 295.80 326.60)">Mutation data</text>
<circle cx="300.10" cy="325.00" r="1.05" fill="#111"/>
<circle cx="306.50" cy="325.00" r="1.05" fill="#111"/>
<text x="295.80" y="332.70" font-size="4.0" text-anchor="end" fill="#333333" stroke="#333333" textLength="17.10" lengthAdjust="spacingAndGlyphs" transform="rotate(0.03 295.80 332.70)">CNA data</text>
<circle cx="300.10" cy="331.10" r="1.05" fill="#111"/>
<circle cx="306.50" cy="331.10" r="1.05" fill="#111"/>
<text x="298.30" y="336.90" font-size="3.1" textLength="33.20" lengthAdjust="spacingAndGlyphs" transform="rotate(49.60 298.30 336.90)" dy="0.9" fill="#222" stroke="#222" style="stroke-width:0.07px">Lung Adenocarcinoma</text>
<text x="304.70" y="336.90" font-size="3.1" textLength="47.30" lengthAdjust="spacingAndGlyphs" transform="rotate(49.60 304.70 336.90)" dy="0.9" fill="#222" stroke="#222" style="stroke-width:0.07px">Lung Squamous Cell Carcinoma</text>
<text x="5.60" y="396.24" font-size="5.1" font-weight="bold" fill="#000" stroke="#000" transform="rotate(0.03 5.60 396.24)">F</text>
<text x="72.60" y="396.99" font-size="4.7" font-style="italic" fill="#1a1a1a" stroke="#1a1a1a" textLength="17.00" lengthAdjust="spacingAndGlyphs" transform="rotate(0.03 72.60 396.99)" style="stroke-width:0.15px">TFAP2D</text>
<rect x="47.15" y="399.20" width="0.50" height="76.40" fill="#c8c8c8"/>
<rect x="46.10" y="406.20" width="1.30" height="0.40" fill="#999"/>
<text x="46.05" y="407.77" font-size="3.25" text-anchor="end" fill="#444" stroke="#444" transform="rotate(0.03 46.05 407.77)">6%</text>
<rect x="46.10" y="417.90" width="1.30" height="0.40" fill="#999"/>
<text x="46.05" y="419.47" font-size="3.25" text-anchor="end" fill="#444" stroke="#444" transform="rotate(0.03 46.05 419.47)">5%</text>
<rect x="46.10" y="429.40" width="1.30" height="0.40" fill="#999"/>
<text x="46.05" y="430.97" font-size="3.25" text-anchor="end" fill="#444" stroke="#444" transform="rotate(0.03 46.05 430.97)">4%</text>
<rect x="46.10" y="440.80" width="1.30" height="0.40" fill="#999"/>
<text x="46.05" y="442.37" font-size="3.25" text-anchor="end" fill="#444" stroke="#444" transform="rotate(0.03 46.05 442.37)">3%</text>
<rect x="46.10" y="452.60" width="1.30" height="0.40" fill="#999"/>
<text x="46.05" y="454.17" font-size="3.25" text-anchor="end" fill="#444" stroke="#444" transform="rotate(0.03 46.05 454.17)">2%</text>
<rect x="46.10" y="464.00" width="1.30" height="0.40" fill="#999"/>
<text x="46.05" y="465.57" font-size="3.25" text-anchor="end" fill="#444" stroke="#444" transform="rotate(0.03 46.05 465.57)">1%</text>
<rect x="48.20" y="404.90" width="5.20" height="52.20" fill="#008000"/>
<rect x="48.20" y="457.10" width="5.20" height="18.50" fill="#ff0000"/>
<text x="31.80" y="435.05" font-size="3.9" text-anchor="middle" textLength="36.50" lengthAdjust="spacingAndGlyphs" transform="rotate(-89.97 31.80 435.05)" dy="1.15" fill="#4a4a4a" stroke="#4a4a4a" style="stroke-width:0.05px">Alteration Frequency</text>
<text x="46.00" y="482.10" font-size="4.0" text-anchor="end" fill="#333333" stroke="#333333" textLength="39.20" lengthAdjust="spacingAndGlyphs" transform="rotate(0.03 46.00 482.10)">Structural variant data</text>
<circle cx="50.80" cy="480.50" r="1.05" fill="#111"/>
<text x="46.00" y="488.30" font-size="4.0" text-anchor="end" fill="#333333" stroke="#333333" textLength="26.00" lengthAdjust="spacingAndGlyphs" transform="rotate(0.03 46.00 488.30)">Mutation data</text>
<circle cx="50.80" cy="486.70" r="1.05" fill="#111"/>
<text x="46.00" y="494.50" font-size="4.0" text-anchor="end" fill="#333333" stroke="#333333" textLength="17.10" lengthAdjust="spacingAndGlyphs" transform="rotate(0.03 46.00 494.50)">CNA data</text>
<circle cx="50.80" cy="492.90" r="1.05" fill="#111"/>
<text x="49.00" y="498.70" font-size="3.1" textLength="42.00" lengthAdjust="spacingAndGlyphs" transform="rotate(49.60 49.00 498.70)" dy="0.9" fill="#222" stroke="#222" style="stroke-width:0.07px">Non-Small Cell Lung Cancer</text>
<rect x="111.35" y="399.20" width="0.50" height="76.20" fill="#c8c8c8"/>
<rect x="110.30" y="408.50" width="1.30" height="0.40" fill="#999"/>
<text x="110.25" y="410.07" font-size="3.25" text-anchor="end" fill="#444" stroke="#444" transform="rotate(0.03 110.25 410.07)">6%</text>
<rect x="110.30" y="419.70" width="1.30" height="0.40" fill="#999"/>
<text x="110.25" y="421.27" font-size="3.25" text-anchor="end" fill="#444" stroke="#444" transform="rotate(0.03 110.25 421.27)">5%</text>
<rect x="110.30" y="430.90" width="1.30" height="0.40" fill="#999"/>
<text x="110.25" y="432.47" font-size="3.25" text-anchor="end" fill="#444" stroke="#444" transform="rotate(0.03 110.25 432.47)">4%</text>
<rect x="110.30" y="442.10" width="1.30" height="0.40" fill="#999"/>
<text x="110.25" y="443.67" font-size="3.25" text-anchor="end" fill="#444" stroke="#444" transform="rotate(0.03 110.25 443.67)">3%</text>
<rect x="110.30" y="453.10" width="1.30" height="0.40" fill="#999"/>
<text x="110.25" y="454.67" font-size="3.25" text-anchor="end" fill="#444" stroke="#444" transform="rotate(0.03 110.25 454.67)">2%</text>
<rect x="110.30" y="464.30" width="1.30" height="0.40" fill="#999"/>
<text x="110.25" y="465.87" font-size="3.25" text-anchor="end" fill="#444" stroke="#444" transform="rotate(0.03 110.25 465.87)">1%</text>
<rect x="112.70" y="404.40" width="5.10" height="48.10" fill="#008000"/>
<rect x="112.70" y="452.50" width="5.10" height="20.80" fill="#ff0000"/>
<rect x="112.70" y="473.30" width="5.10" height="2.10" fill="#555555"/>
<rect x="119.00" y="409.80" width="5.10" height="50.60" fill="#008000"/>
<rect x="119.00" y="460.40" width="5.10" height="15.00" fill="#ff0000"/>
<text x="95.50" y="435.05" font-size="3.9" text-anchor="middle" textLength="36.50" lengthAdjust="spacingAndGlyphs" transform="rotate(-89.97 95.50 435.05)" dy="1.15" fill="#4a4a4a" stroke="#4a4a4a" style="stroke-width:0.05px">Alteration Frequency</text>
<text x="110.90" y="481.70" font-size="4.0" text-anchor="end" fill="#333333" stroke="#333333" textLength="39.20" lengthAdjust="spacingAndGlyphs" transform="rotate(0.03 110.90 481.70)">Structural variant data</text>
<circle cx="115.25" cy="480.10" r="1.05" fill="#111"/>
<circle cx="121.60" cy="480.10" r="1.05" fill="#111"/>
<text x="110.90" y="487.90" font-size="4.0" text-anchor="end" fill="#333333" stroke="#333333" textLength="26.00" lengthAdjust="spacingAndGlyphs" transform="rotate(0.03 110.90 487.90)">Mutation data</text>
<circle cx="115.25" cy="486.30" r="1.05" fill="#111"/>
<circle cx="121.60" cy="486.30" r="1.05" fill="#111"/>
<text x="110.90" y="494.20" font-size="4.0" text-anchor="end" fill="#333333" stroke="#333333" textLength="17.10" lengthAdjust="spacingAndGlyphs" transform="rotate(0.03 110.90 494.20)">CNA data</text>
<circle cx="115.25" cy="492.60" r="1.05" fill="#111"/>
<circle cx="121.60" cy="492.60" r="1.05" fill="#111"/>
<text x="113.45" y="498.40" font-size="3.1" textLength="47.30" lengthAdjust="spacingAndGlyphs" transform="rotate(49.60 113.45 498.40)" dy="0.9" fill="#222" stroke="#222" style="stroke-width:0.07px">Lung Squamous Cell Carcinoma</text>
<text x="119.80" y="498.40" font-size="3.1" textLength="33.20" lengthAdjust="spacingAndGlyphs" transform="rotate(49.60 119.80 498.40)" dy="0.9" fill="#222" stroke="#222" style="stroke-width:0.07px">Lung Adenocarcinoma</text>
<text x="190.60" y="396.24" font-size="5.1" font-weight="bold" fill="#000" stroke="#000" transform="rotate(0.03 190.60 396.24)">G</text>
<text x="259.00" y="396.99" font-size="4.7" font-style="italic" fill="#1a1a1a" stroke="#1a1a1a" textLength="16.20" lengthAdjust="spacingAndGlyphs" transform="rotate(0.03 259.00 396.99)" style="stroke-width:0.15px">TFAP2E</text>
<rect x="230.25" y="399.20" width="0.50" height="76.30" fill="#c8c8c8"/>
<rect x="229.20" y="410.00" width="1.30" height="0.40" fill="#999"/>
<text x="229.15" y="411.57" font-size="3.25" text-anchor="end" fill="#444" stroke="#444" transform="rotate(0.03 229.15 411.57)">0.8%</text>
<rect x="229.20" y="426.30" width="1.30" height="0.40" fill="#999"/>
<text x="229.15" y="427.87" font-size="3.25" text-anchor="end" fill="#444" stroke="#444" transform="rotate(0.03 229.15 427.87)">0.6%</text>
<rect x="229.20" y="442.60" width="1.30" height="0.40" fill="#999"/>
<text x="229.15" y="444.17" font-size="3.25" text-anchor="end" fill="#444" stroke="#444" transform="rotate(0.03 229.15 444.17)">0.4%</text>
<rect x="229.20" y="458.90" width="1.30" height="0.40" fill="#999"/>
<text x="229.15" y="460.47" font-size="3.25" text-anchor="end" fill="#444" stroke="#444" transform="rotate(0.03 229.15 460.47)">0.2%</text>
<rect x="231.30" y="404.40" width="5.20" height="21.40" fill="#008000"/>
<rect x="231.30" y="425.80" width="5.20" height="42.70" fill="#ff0000"/>
<rect x="231.30" y="468.50" width="5.20" height="7.00" fill="#0000ff"/>
<text x="213.90" y="436.30" font-size="3.9" text-anchor="middle" textLength="36.40" lengthAdjust="spacingAndGlyphs" transform="rotate(-89.97 213.90 436.30)" dy="1.15" fill="#4a4a4a" stroke="#4a4a4a" style="stroke-width:0.05px">Alteration Frequency</text>
<text x="229.70" y="481.60" font-size="4.0" text-anchor="end" fill="#333333" stroke="#333333" textLength="39.20" lengthAdjust="spacingAndGlyphs" transform="rotate(0.03 229.70 481.60)">Structural variant data</text>
<circle cx="233.80" cy="480.00" r="1.05" fill="#111"/>
<text x="229.70" y="487.90" font-size="4.0" text-anchor="end" fill="#333333" stroke="#333333" textLength="26.00" lengthAdjust="spacingAndGlyphs" transform="rotate(0.03 229.70 487.90)">Mutation data</text>
<circle cx="233.80" cy="486.30" r="1.05" fill="#111"/>
<text x="229.70" y="494.10" font-size="4.0" text-anchor="end" fill="#333333" stroke="#333333" textLength="17.10" lengthAdjust="spacingAndGlyphs" transform="rotate(0.03 229.70 494.10)">CNA data</text>
<circle cx="233.80" cy="492.50" r="1.05" fill="#111"/>
<text x="232.00" y="498.30" font-size="3.1" textLength="42.00" lengthAdjust="spacingAndGlyphs" transform="rotate(49.60 232.00 498.30)" dy="0.9" fill="#222" stroke="#222" style="stroke-width:0.07px">Non-Small Cell Lung Cancer</text>
<rect x="300.20" y="398.20" width="0.50" height="77.20" fill="#c8c8c8"/>
<rect x="299.15" y="407.70" width="1.30" height="0.40" fill="#999"/>
<text x="299.10" y="409.27" font-size="3.25" text-anchor="end" fill="#444" stroke="#444" transform="rotate(0.03 299.10 409.27)">1%</text>
<rect x="299.15" y="421.50" width="1.30" height="0.40" fill="#999"/>
<text x="299.10" y="423.07" font-size="3.25" text-anchor="end" fill="#444" stroke="#444" transform="rotate(0.03 299.10 423.07)">0.8%</text>
<rect x="299.15" y="435.00" width="1.30" height="0.40" fill="#999"/>
<text x="299.10" y="436.57" font-size="3.25" text-anchor="end" fill="#444" stroke="#444" transform="rotate(0.03 299.10 436.57)">0.6%</text>
<rect x="299.15" y="448.50" width="1.30" height="0.40" fill="#999"/>
<text x="299.10" y="450.07" font-size="3.25" text-anchor="end" fill="#444" stroke="#444" transform="rotate(0.03 299.10 450.07)">0.4%</text>
<rect x="299.15" y="461.70" width="1.30" height="0.40" fill="#999"/>
<text x="299.10" y="463.27" font-size="3.25" text-anchor="end" fill="#444" stroke="#444" transform="rotate(0.03 299.10 463.27)">0.2%</text>
<rect x="301.90" y="404.40" width="5.20" height="10.30" fill="#008000"/>
<rect x="301.90" y="414.70" width="5.20" height="60.70" fill="#ff0000"/>
<rect x="308.20" y="434.20" width="5.10" height="27.50" fill="#008000"/>
<rect x="308.20" y="461.70" width="5.10" height="13.70" fill="#0000ff"/>
<text x="284.20" y="435.05" font-size="3.9" text-anchor="middle" textLength="36.50" lengthAdjust="spacingAndGlyphs" transform="rotate(-89.97 284.20 435.05)" dy="1.15" fill="#4a4a4a" stroke="#4a4a4a" style="stroke-width:0.05px">Alteration Frequency</text>
<text x="300.00" y="481.60" font-size="4.0" text-anchor="end" fill="#333333" stroke="#333333" textLength="39.20" lengthAdjust="spacingAndGlyphs" transform="rotate(0.03 300.00 481.60)">Structural variant data</text>
<circle cx="304.50" cy="480.00" r="1.05" fill="#111"/>
<circle cx="310.80" cy="480.00" r="1.05" fill="#111"/>
<text x="300.00" y="487.90" font-size="4.0" text-anchor="end" fill="#333333" stroke="#333333" textLength="26.00" lengthAdjust="spacingAndGlyphs" transform="rotate(0.03 300.00 487.90)">Mutation data</text>
<circle cx="304.50" cy="486.30" r="1.05" fill="#111"/>
<circle cx="310.80" cy="486.30" r="1.05" fill="#111"/>
<text x="300.00" y="494.20" font-size="4.0" text-anchor="end" fill="#333333" stroke="#333333" textLength="17.10" lengthAdjust="spacingAndGlyphs" transform="rotate(0.03 300.00 494.20)">CNA data</text>
<circle cx="304.50" cy="492.60" r="1.05" fill="#111"/>
<circle cx="310.80" cy="492.60" r="1.05" fill="#111"/>
<text x="302.70" y="498.40" font-size="3.1" textLength="33.20" lengthAdjust="spacingAndGlyphs" transform="rotate(49.60 302.70 498.40)" dy="0.9" fill="#222" stroke="#222" style="stroke-width:0.07px">Lung Adenocarcinoma</text>
<text x="309.00" y="498.40" font-size="3.1" textLength="47.30" lengthAdjust="spacingAndGlyphs" transform="rotate(49.60 309.00 498.40)" dy="0.9" fill="#222" stroke="#222" style="stroke-width:0.07px">Lung Squamous Cell Carcinoma</text>
<circle cx="106.30" cy="222.10" r="0.88" fill="#007a00"/>
<text x="109.20" y="223.30" font-size="4.0" fill="#333333" stroke="#333333" textLength="16.10" lengthAdjust="spacingAndGlyphs" transform="rotate(0.03 109.20 223.30)">Mutation</text>
<circle cx="140.90" cy="222.10" r="0.88" fill="#e8000a"/>
<text x="144.40" y="223.30" font-size="4.0" fill="#333333" stroke="#333333" textLength="22.80" lengthAdjust="spacingAndGlyphs" transform="rotate(0.03 144.40 223.30)">Amplification</text>
<circle cx="180.30" cy="222.10" r="0.88" fill="#0000e0"/>
<text x="183.30" y="223.30" font-size="4.0" fill="#333333" stroke="#333333" textLength="24.10" lengthAdjust="spacingAndGlyphs" transform="rotate(0.03 183.30 223.30)">Deep Deletion</text>
<circle cx="223.50" cy="222.10" r="0.88" fill="#333"/>
<text x="226.30" y="223.30" font-size="4.0" fill="#333333" stroke="#333333" textLength="34.40" lengthAdjust="spacingAndGlyphs" transform="rotate(0.03 226.30 223.30)">Multiple Alterations</text>
<circle cx="108.75" cy="381.60" r="0.88" fill="#007a00"/>
<text x="111.65" y="382.80" font-size="4.0" fill="#333333" stroke="#333333" textLength="16.10" lengthAdjust="spacingAndGlyphs" transform="rotate(0.03 111.65 382.80)">Mutation</text>
<circle cx="143.35" cy="381.60" r="0.88" fill="#e8000a"/>
<text x="146.85" y="382.80" font-size="4.0" fill="#333333" stroke="#333333" textLength="22.80" lengthAdjust="spacingAndGlyphs" transform="rotate(0.03 146.85 382.80)">Amplification</text>
<circle cx="182.75" cy="381.60" r="0.88" fill="#0000e0"/>
<text x="185.75" y="382.80" font-size="4.0" fill="#333333" stroke="#333333" textLength="24.10" lengthAdjust="spacingAndGlyphs" transform="rotate(0.03 185.75 382.80)">Deep Deletion</text>
<circle cx="225.95" cy="381.60" r="0.88" fill="#333"/>
<text x="228.75" y="382.80" font-size="4.0" fill="#333333" stroke="#333333" textLength="34.40" lengthAdjust="spacingAndGlyphs" transform="rotate(0.03 228.75 382.80)">Multiple Alterations</text>
<circle cx="112.25" cy="541.10" r="0.88" fill="#007a00"/>
<text x="115.15" y="542.30" font-size="4.0" fill="#333333" stroke="#333333" textLength="16.10" lengthAdjust="spacingAndGlyphs" transform="rotate(0.03 115.15 542.30)">Mutation</text>
<circle cx="146.85" cy="541.10" r="0.88" fill="#e8000a"/>
<text x="150.35" y="542.30" font-size="4.0" fill="#333333" stroke="#333333" textLength="22.80" lengthAdjust="spacingAndGlyphs" transform="rotate(0.03 150.35 542.30)">Amplification</text>
<circle cx="186.25" cy="541.10" r="0.88" fill="#0000e0"/>
<text x="189.25" y="542.30" font-size="4.0" fill="#333333" stroke="#333333" textLength="24.10" lengthAdjust="spacingAndGlyphs" transform="rotate(0.03 189.25 542.30)">Deep Deletion</text>
<circle cx="229.45" cy="541.10" r="0.88" fill="#333"/>
<text x="232.25" y="542.30" font-size="4.0" fill="#333333" stroke="#333333" textLength="34.40" lengthAdjust="spacingAndGlyphs" transform="rotate(0.03 232.25 542.30)">Multiple Alterations</text>
</svg>
</body></html>
